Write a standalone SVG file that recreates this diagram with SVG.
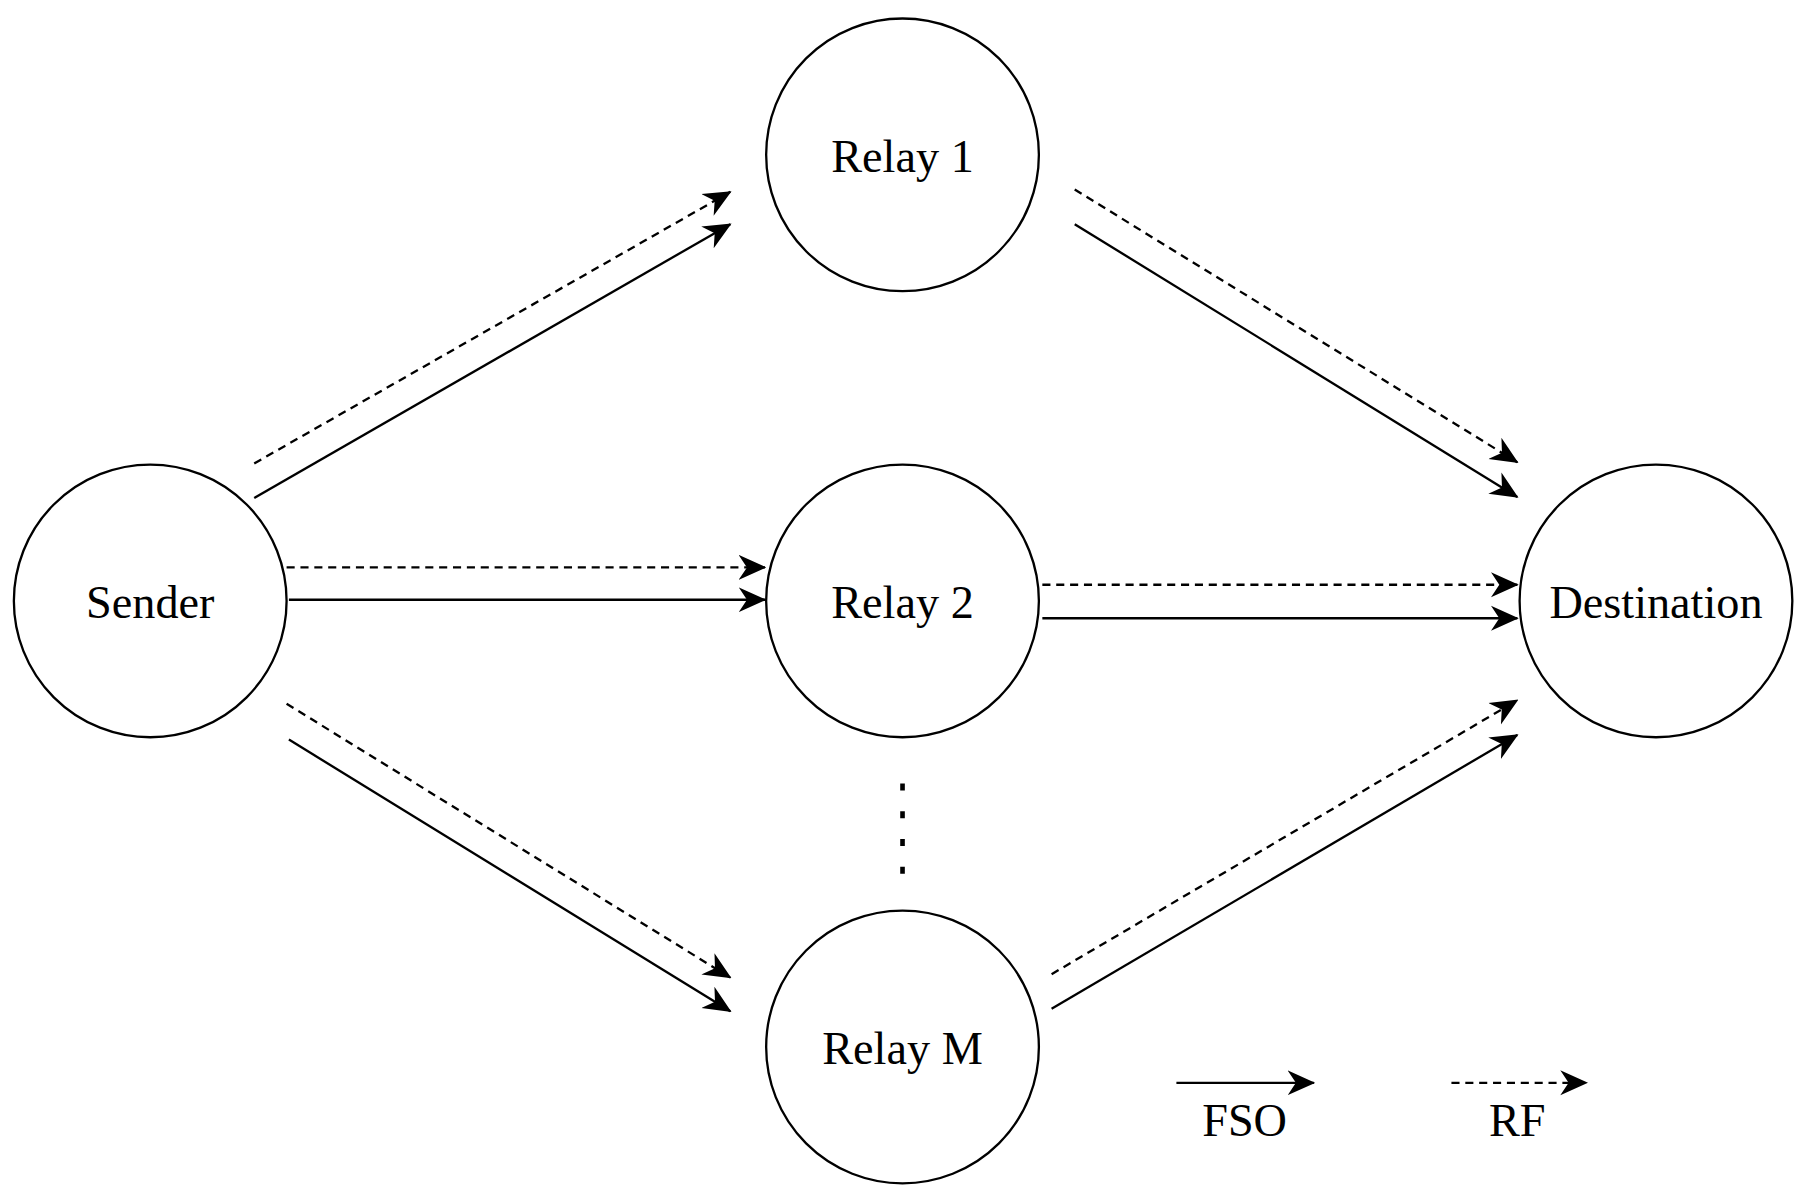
<svg xmlns="http://www.w3.org/2000/svg" width="1812" height="1203" viewBox="0 0 1812 1203">
<defs>
<marker id="ahs" viewBox="0 0 20 20" refX="19" refY="10" markerWidth="24" markerHeight="24" markerUnits="userSpaceOnUse" orient="auto"><path d="M0,1 L20,10 L0,19 L6,10 Z" fill="#000"/></marker>
</defs>
<style>
.n{fill:#fff;stroke:#000;stroke-width:2}
.t{font-family:"Liberation Serif","Times New Roman",serif;font-size:40px;text-anchor:middle;fill:#000}
.s{stroke:#000;stroke-width:2;fill:none;marker-end:url(#ahs)}
.d{stroke:#000;stroke-width:2;fill:none;stroke-dasharray:7,5;marker-end:url(#ahs)}
</style>
<rect width="1812" height="1203" fill="#fff"/>
<g transform="scale(1.1556)">
<g id="sender"><circle class="n" cx="130" cy="520" r="118"/><text class="t" x="130" y="535">Sender</text></g>
<g id="relay1"><circle class="n" cx="781" cy="134" r="118"/><text class="t" x="781" y="149">Relay 1</text></g>
<g id="relay2"><circle class="n" cx="781" cy="520" r="118"/><text class="t" x="781" y="535">Relay 2</text></g>
<g id="relayM"><circle class="n" cx="781" cy="906" r="118"/><text class="t" x="781" y="921">Relay M</text></g>
<g id="destination"><circle class="n" cx="1433" cy="520" r="118"/><text class="t" x="1433" y="535">Destination</text></g>
<g id="connectors">
<line class="d" x1="220" y1="401" x2="632" y2="166"/>
<line class="s" x1="220" y1="431" x2="632" y2="194"/>
<line class="d" x1="248" y1="491" x2="662" y2="491"/>
<line class="s" x1="250" y1="519" x2="662" y2="519"/>
<line class="d" x1="248" y1="609" x2="632" y2="846"/>
<line class="s" x1="250" y1="640" x2="632" y2="875"/>
<line class="d" x1="930" y1="164" x2="1313" y2="400"/>
<line class="s" x1="930" y1="194" x2="1313" y2="430"/>
<line class="d" x1="902" y1="506" x2="1313" y2="506"/>
<line class="s" x1="902" y1="535" x2="1313" y2="535"/>
<line class="d" x1="910" y1="843" x2="1313" y2="606"/>
<line class="s" x1="910" y1="873" x2="1313" y2="636"/>
</g>
<line x1="781" y1="678" x2="781" y2="756" stroke="#000" stroke-width="4" stroke-dasharray="6,18"/>
<g id="legend">
<line class="s" x1="1018" y1="937" x2="1137" y2="937"/>
<text class="t" x="1077" y="983">FSO</text>
<line class="d" x1="1256" y1="937" x2="1373" y2="937"/>
<text class="t" x="1313" y="983">RF</text>
</g>
</g>
</svg>
